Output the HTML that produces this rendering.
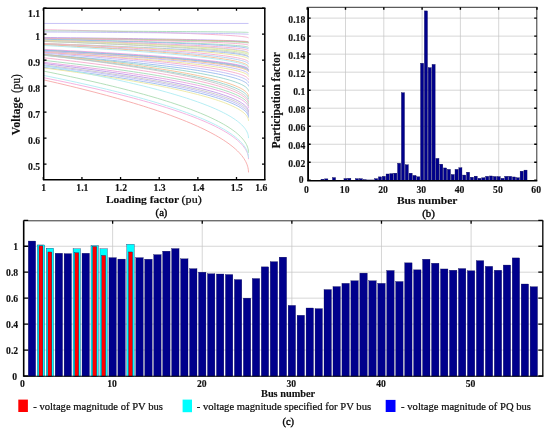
<!DOCTYPE html>
<html><head><meta charset="utf-8"><title>Figure</title>
<style>html,body{margin:0;padding:0;background:#fff;width:550px;height:431px;overflow:hidden}</style>
</head><body>
<svg width="550" height="431" viewBox="0 0 550 431" style="display:block;font-family:'Liberation Serif', 'DejaVu Serif', serif">
<style>.rg{stroke:#000;stroke-width:0.22px;fill:#111} text[font-weight=bold]{stroke:#000;stroke-width:0.12px} .pl{stroke-width:0.4px}</style>
<rect width="550" height="431" fill="#fff"/>
<g fill="none" stroke-width="0.85" stroke-linejoin="round">
<path d="M44.10,23.44 L248.50,23.44" stroke="#bdb8f5"/>
<path d="M44.10,29.70 L50.86,29.84 L57.50,29.98 L64.03,30.11 L70.44,30.25 L76.75,30.39 L82.94,30.53 L89.01,30.67 L94.97,30.81 L100.82,30.95 L106.56,31.08 L112.18,31.22 L117.68,31.36 L123.08,31.50 L128.36,31.64 L133.52,31.77 L138.58,31.91 L143.52,32.05 L148.34,32.19 L153.06,32.33 L157.66,32.47 L162.14,32.60 L166.51,32.74 L170.77,32.88 L174.92,33.02 L178.95,33.16 L182.86,33.30 L186.67,33.44 L190.36,33.57 L193.94,33.71 L197.40,33.85 L200.75,33.99 L203.99,34.13 L207.11,34.27 L210.12,34.40 L213.01,34.54 L215.80,34.68 L218.46,34.82 L221.02,34.96 L223.46,35.09 L225.79,35.23 L228.00,35.37 L230.10,35.51 L232.09,35.65 L233.96,35.79 L235.72,35.92 L237.37,36.06 L238.90,36.20 L240.32,36.34 L241.63,36.48 L242.82,36.62 L243.90,36.76 L244.87,36.89 L245.72,37.03 L246.46,37.17 L247.08,37.31 L247.59,37.45 L247.99,37.58 L248.27,37.72 L248.44,37.86 L248.50,38.00" stroke="#f4a6c9"/>
<path d="M44.10,30.90 L50.86,30.93 L57.50,30.95 L64.03,30.98 L70.44,31.01 L76.75,31.03 L82.94,31.06 L89.01,31.09 L94.97,31.11 L100.82,31.14 L106.56,31.17 L112.18,31.19 L117.68,31.22 L123.08,31.25 L128.36,31.27 L133.52,31.30 L138.58,31.33 L143.52,31.35 L148.34,31.38 L153.06,31.41 L157.66,31.43 L162.14,31.46 L166.51,31.49 L170.77,31.51 L174.92,31.54 L178.95,31.57 L182.86,31.59 L186.67,31.62 L190.36,31.65 L193.94,31.67 L197.40,31.70 L200.75,31.73 L203.99,31.75 L207.11,31.78 L210.12,31.81 L213.01,31.83 L215.80,31.86 L218.46,31.89 L221.02,31.91 L223.46,31.94 L225.79,31.97 L228.00,31.99 L230.10,32.02 L232.09,32.05 L233.96,32.07 L235.72,32.10 L237.37,32.13 L238.90,32.15 L240.32,32.18 L241.63,32.21 L242.82,32.23 L243.90,32.26 L244.87,32.29 L245.72,32.31 L246.46,32.34 L247.08,32.37 L247.59,32.39 L247.99,32.42 L248.27,32.45 L248.44,32.47 L248.50,32.50" stroke="#9fd8b4"/>
<path d="M44.10,32.00 L50.86,32.04 L57.50,32.08 L64.03,32.12 L70.44,32.16 L76.75,32.20 L82.94,32.24 L89.01,32.28 L94.97,32.32 L100.82,32.36 L106.56,32.40 L112.18,32.44 L117.68,32.48 L123.08,32.52 L128.36,32.56 L133.52,32.60 L138.58,32.64 L143.52,32.68 L148.34,32.72 L153.06,32.76 L157.66,32.80 L162.14,32.84 L166.51,32.88 L170.77,32.92 L174.92,32.96 L178.95,33.00 L182.86,33.04 L186.67,33.08 L190.36,33.12 L193.94,33.16 L197.40,33.20 L200.75,33.24 L203.99,33.28 L207.11,33.32 L210.12,33.36 L213.01,33.40 L215.80,33.44 L218.46,33.48 L221.02,33.52 L223.46,33.56 L225.79,33.60 L228.00,33.64 L230.10,33.68 L232.09,33.72 L233.96,33.76 L235.72,33.80 L237.37,33.84 L238.90,33.88 L240.32,33.92 L241.63,33.96 L242.82,34.00 L243.90,34.04 L244.87,34.08 L245.72,34.12 L246.46,34.16 L247.08,34.20 L247.59,34.24 L247.99,34.28 L248.27,34.32 L248.44,34.36 L248.50,34.40" stroke="#bcb6f4"/>
<path d="M44.10,37.50 L50.86,37.57 L57.50,37.65 L64.03,37.72 L70.44,37.80 L76.75,37.87 L82.94,37.95 L89.01,38.02 L94.97,38.10 L100.82,38.17 L106.56,38.25 L112.18,38.32 L117.68,38.40 L123.08,38.47 L128.36,38.55 L133.52,38.62 L138.58,38.70 L143.52,38.77 L148.34,38.85 L153.06,38.92 L157.66,39.00 L162.14,39.07 L166.51,39.14 L170.77,39.22 L174.92,39.29 L178.95,39.37 L182.86,39.44 L186.67,39.52 L190.36,39.59 L193.94,39.67 L197.40,39.74 L200.75,39.82 L203.99,39.89 L207.11,39.97 L210.12,40.04 L213.01,40.12 L215.80,40.19 L218.46,40.27 L221.02,40.34 L223.46,40.42 L225.79,40.49 L228.00,40.56 L230.10,40.64 L232.09,40.71 L233.96,40.79 L235.72,40.86 L237.37,40.94 L238.90,41.01 L240.32,41.09 L241.63,41.16 L242.82,41.24 L243.90,41.31 L244.87,41.39 L245.72,41.46 L246.46,41.54 L247.08,41.61 L247.59,41.69 L247.99,41.76 L248.27,41.84 L248.44,41.91 L248.50,41.99" stroke="#b995e6"/>
<path d="M44.10,38.40 L50.86,38.46 L57.50,38.53 L64.03,38.59 L70.44,38.66 L76.75,38.72 L82.94,38.79 L89.01,38.85 L94.97,38.92 L100.82,38.98 L106.56,39.05 L112.18,39.11 L117.68,39.18 L123.08,39.24 L128.36,39.31 L133.52,39.37 L138.58,39.44 L143.52,39.50 L148.34,39.57 L153.06,39.63 L157.66,39.70 L162.14,39.76 L166.51,39.83 L170.77,39.89 L174.92,39.96 L178.95,40.02 L182.86,40.08 L186.67,40.15 L190.36,40.21 L193.94,40.28 L197.40,40.34 L200.75,40.41 L203.99,40.47 L207.11,40.54 L210.12,40.60 L213.01,40.67 L215.80,40.73 L218.46,40.80 L221.02,40.86 L223.46,40.93 L225.79,40.99 L228.00,41.06 L230.10,41.12 L232.09,41.19 L233.96,41.25 L235.72,41.32 L237.37,41.38 L238.90,41.45 L240.32,41.51 L241.63,41.58 L242.82,41.64 L243.90,41.71 L244.87,41.77 L245.72,41.83 L246.46,41.90 L247.08,41.96 L247.59,42.03 L247.99,42.09 L248.27,42.16 L248.44,42.22 L248.50,42.29" stroke="#f3b98c"/>
<path d="M44.10,38.40 L50.86,38.47 L57.50,38.54 L64.03,38.61 L70.44,38.68 L76.75,38.75 L82.94,38.82 L89.01,38.89 L94.97,38.96 L100.82,39.03 L106.56,39.10 L112.18,39.17 L117.68,39.24 L123.08,39.31 L128.36,39.38 L133.52,39.45 L138.58,39.52 L143.52,39.59 L148.34,39.66 L153.06,39.73 L157.66,39.80 L162.14,39.87 L166.51,39.94 L170.77,40.01 L174.92,40.08 L178.95,40.15 L182.86,40.22 L186.67,40.29 L190.36,40.36 L193.94,40.43 L197.40,40.50 L200.75,40.57 L203.99,40.64 L207.11,40.71 L210.12,40.78 L213.01,40.85 L215.80,40.92 L218.46,40.99 L221.02,41.06 L223.46,41.13 L225.79,41.20 L228.00,41.27 L230.10,41.34 L232.09,41.41 L233.96,41.48 L235.72,41.55 L237.37,41.62 L238.90,41.69 L240.32,41.76 L241.63,41.83 L242.82,41.90 L243.90,41.97 L244.87,42.04 L245.72,42.11 L246.46,42.18 L247.08,42.25 L247.59,42.32 L247.99,42.39 L248.27,42.46 L248.44,42.53 L248.50,42.60" stroke="#d9a88a"/>
<path d="M44.10,38.40 L50.86,38.48 L57.50,38.56 L64.03,38.64 L70.44,38.72 L76.75,38.80 L82.94,38.88 L89.01,38.96 L94.97,39.04 L100.82,39.12 L106.56,39.20 L112.18,39.28 L117.68,39.36 L123.08,39.44 L128.36,39.52 L133.52,39.60 L138.58,39.68 L143.52,39.76 L148.34,39.84 L153.06,39.92 L157.66,40.00 L162.14,40.08 L166.51,40.16 L170.77,40.24 L174.92,40.32 L178.95,40.40 L182.86,40.48 L186.67,40.56 L190.36,40.64 L193.94,40.72 L197.40,40.80 L200.75,40.88 L203.99,40.96 L207.11,41.04 L210.12,41.12 L213.01,41.20 L215.80,41.28 L218.46,41.36 L221.02,41.44 L223.46,41.52 L225.79,41.60 L228.00,41.68 L230.10,41.76 L232.09,41.85 L233.96,41.93 L235.72,42.01 L237.37,42.09 L238.90,42.17 L240.32,42.25 L241.63,42.33 L242.82,42.41 L243.90,42.49 L244.87,42.57 L245.72,42.65 L246.46,42.73 L247.08,42.81 L247.59,42.89 L247.99,42.97 L248.27,43.05 L248.44,43.13 L248.50,43.21" stroke="#9fd8b4"/>
<path d="M44.10,38.40 L50.86,38.51 L57.50,38.63 L64.03,38.74 L70.44,38.86 L76.75,38.97 L82.94,39.08 L89.01,39.20 L94.97,39.31 L100.82,39.42 L106.56,39.54 L112.18,39.65 L117.68,39.77 L123.08,39.88 L128.36,39.99 L133.52,40.11 L138.58,40.22 L143.52,40.33 L148.34,40.45 L153.06,40.56 L157.66,40.68 L162.14,40.79 L166.51,40.90 L170.77,41.02 L174.92,41.13 L178.95,41.24 L182.86,41.36 L186.67,41.47 L190.36,41.59 L193.94,41.70 L197.40,41.81 L200.75,41.93 L203.99,42.04 L207.11,42.15 L210.12,42.27 L213.01,42.38 L215.80,42.50 L218.46,42.61 L221.02,42.72 L223.46,42.84 L225.79,42.95 L228.00,43.06 L230.10,43.18 L232.09,43.29 L233.96,43.41 L235.72,43.52 L237.37,43.63 L238.90,43.75 L240.32,43.86 L241.63,43.97 L242.82,44.09 L243.90,44.20 L244.87,44.32 L245.72,44.43 L246.46,44.54 L247.08,44.66 L247.59,44.77 L247.99,44.88 L248.27,45.00 L248.44,45.11 L248.50,45.23" stroke="#f4a6c9"/>
<path d="M44.10,39.30 L50.86,39.44 L57.50,39.57 L64.03,39.71 L70.44,39.84 L76.75,39.98 L82.94,40.12 L89.01,40.25 L94.97,40.39 L100.82,40.53 L106.56,40.66 L112.18,40.80 L117.68,40.93 L123.08,41.07 L128.36,41.21 L133.52,41.34 L138.58,41.48 L143.52,41.62 L148.34,41.75 L153.06,41.89 L157.66,42.02 L162.14,42.16 L166.51,42.30 L170.77,42.43 L174.92,42.57 L178.95,42.71 L182.86,42.84 L186.67,42.98 L190.36,43.11 L193.94,43.25 L197.40,43.39 L200.75,43.52 L203.99,43.66 L207.11,43.80 L210.12,43.93 L213.01,44.07 L215.80,44.20 L218.46,44.34 L221.02,44.48 L223.46,44.61 L225.79,44.75 L228.00,44.89 L230.10,45.02 L232.09,45.16 L233.96,45.29 L235.72,45.43 L237.37,45.57 L238.90,45.70 L240.32,45.84 L241.63,45.98 L242.82,46.11 L243.90,46.25 L244.87,46.38 L245.72,46.52 L246.46,46.66 L247.08,46.79 L247.59,46.93 L247.99,47.07 L248.27,47.20 L248.44,47.34 L248.50,47.47" stroke="#9fd8b4"/>
<path d="M44.10,39.30 L50.86,39.46 L57.50,39.62 L64.03,39.78 L70.44,39.95 L76.75,40.11 L82.94,40.27 L89.01,40.43 L94.97,40.59 L100.82,40.75 L106.56,40.91 L112.18,41.07 L117.68,41.24 L123.08,41.40 L128.36,41.56 L133.52,41.72 L138.58,41.88 L143.52,42.04 L148.34,42.20 L153.06,42.36 L157.66,42.53 L162.14,42.69 L166.51,42.85 L170.77,43.01 L174.92,43.17 L178.95,43.33 L182.86,43.49 L186.67,43.65 L190.36,43.82 L193.94,43.98 L197.40,44.14 L200.75,44.30 L203.99,44.46 L207.11,44.62 L210.12,44.78 L213.01,44.94 L215.80,45.11 L218.46,45.27 L221.02,45.43 L223.46,45.59 L225.79,45.75 L228.00,45.91 L230.10,46.07 L232.09,46.23 L233.96,46.40 L235.72,46.56 L237.37,46.72 L238.90,46.88 L240.32,47.04 L241.63,47.20 L242.82,47.36 L243.90,47.52 L244.87,47.69 L245.72,47.85 L246.46,48.01 L247.08,48.17 L247.59,48.33 L247.99,48.49 L248.27,48.65 L248.44,48.81 L248.50,48.98" stroke="#95b7ec"/>
<path d="M44.10,40.20 L50.86,40.38 L57.50,40.55 L64.03,40.73 L70.44,40.91 L76.75,41.08 L82.94,41.26 L89.01,41.44 L94.97,41.61 L100.82,41.79 L106.56,41.97 L112.18,42.14 L117.68,42.32 L123.08,42.50 L128.36,42.67 L133.52,42.85 L138.58,43.03 L143.52,43.20 L148.34,43.38 L153.06,43.55 L157.66,43.73 L162.14,43.91 L166.51,44.08 L170.77,44.26 L174.92,44.44 L178.95,44.61 L182.86,44.79 L186.67,44.97 L190.36,45.14 L193.94,45.32 L197.40,45.50 L200.75,45.67 L203.99,45.85 L207.11,46.03 L210.12,46.20 L213.01,46.38 L215.80,46.56 L218.46,46.73 L221.02,46.91 L223.46,47.09 L225.79,47.26 L228.00,47.44 L230.10,47.62 L232.09,47.79 L233.96,47.97 L235.72,48.15 L237.37,48.32 L238.90,48.50 L240.32,48.68 L241.63,48.85 L242.82,49.03 L243.90,49.21 L244.87,49.38 L245.72,49.56 L246.46,49.74 L247.08,49.91 L247.59,50.09 L247.99,50.26 L248.27,50.44 L248.44,50.62 L248.50,50.79" stroke="#f4a6c9"/>
<path d="M44.10,40.20 L50.86,40.41 L57.50,40.62 L64.03,40.83 L70.44,41.05 L76.75,41.26 L82.94,41.47 L89.01,41.68 L94.97,41.89 L100.82,42.10 L106.56,42.31 L112.18,42.53 L117.68,42.74 L123.08,42.95 L128.36,43.16 L133.52,43.37 L138.58,43.58 L143.52,43.79 L148.34,44.01 L153.06,44.22 L157.66,44.43 L162.14,44.64 L166.51,44.85 L170.77,45.06 L174.92,45.28 L178.95,45.49 L182.86,45.70 L186.67,45.91 L190.36,46.12 L193.94,46.33 L197.40,46.54 L200.75,46.76 L203.99,46.97 L207.11,47.18 L210.12,47.39 L213.01,47.60 L215.80,47.81 L218.46,48.02 L221.02,48.24 L223.46,48.45 L225.79,48.66 L228.00,48.87 L230.10,49.08 L232.09,49.29 L233.96,49.50 L235.72,49.72 L237.37,49.93 L238.90,50.14 L240.32,50.35 L241.63,50.56 L242.82,50.77 L243.90,50.98 L244.87,51.20 L245.72,51.41 L246.46,51.62 L247.08,51.83 L247.59,52.04 L247.99,52.25 L248.27,52.46 L248.44,52.68 L248.50,52.89" stroke="#bcb6f4"/>
<path d="M44.10,40.20 L50.86,40.43 L57.50,40.65 L64.03,40.88 L70.44,41.10 L76.75,41.33 L82.94,41.55 L89.01,41.78 L94.97,42.00 L100.82,42.23 L106.56,42.45 L112.18,42.68 L117.68,42.91 L123.08,43.13 L128.36,43.36 L133.52,43.58 L138.58,43.81 L143.52,44.03 L148.34,44.26 L153.06,44.48 L157.66,44.71 L162.14,44.93 L166.51,45.16 L170.77,45.38 L174.92,45.61 L178.95,45.84 L182.86,46.06 L186.67,46.29 L190.36,46.51 L193.94,46.74 L197.40,46.96 L200.75,47.19 L203.99,47.41 L207.11,47.64 L210.12,47.86 L213.01,48.09 L215.80,48.32 L218.46,48.54 L221.02,48.77 L223.46,48.99 L225.79,49.22 L228.00,49.44 L230.10,49.67 L232.09,49.89 L233.96,50.12 L235.72,50.34 L237.37,50.57 L238.90,50.80 L240.32,51.02 L241.63,51.25 L242.82,51.47 L243.90,51.70 L244.87,51.92 L245.72,52.15 L246.46,52.37 L247.08,52.60 L247.59,52.82 L247.99,53.05 L248.27,53.27 L248.44,53.50 L248.50,53.73" stroke="#e8e292"/>
<path d="M44.10,41.40 L50.86,41.63 L57.50,41.85 L64.03,42.08 L70.44,42.31 L76.75,42.53 L82.94,42.76 L89.01,42.98 L94.97,43.21 L100.82,43.44 L106.56,43.66 L112.18,43.89 L117.68,44.12 L123.08,44.34 L128.36,44.57 L133.52,44.80 L138.58,45.02 L143.52,45.25 L148.34,45.47 L153.06,45.70 L157.66,45.93 L162.14,46.15 L166.51,46.38 L170.77,46.61 L174.92,46.83 L178.95,47.06 L182.86,47.29 L186.67,47.51 L190.36,47.74 L193.94,47.97 L197.40,48.19 L200.75,48.42 L203.99,48.64 L207.11,48.87 L210.12,49.10 L213.01,49.32 L215.80,49.55 L218.46,49.78 L221.02,50.00 L223.46,50.23 L225.79,50.46 L228.00,50.68 L230.10,50.91 L232.09,51.13 L233.96,51.36 L235.72,51.59 L237.37,51.81 L238.90,52.04 L240.32,52.27 L241.63,52.49 L242.82,52.72 L243.90,52.95 L244.87,53.17 L245.72,53.40 L246.46,53.62 L247.08,53.85 L247.59,54.08 L247.99,54.30 L248.27,54.53 L248.44,54.76 L248.50,54.98" stroke="#c3e39e"/>
<path d="M44.10,41.40 L50.86,41.65 L57.50,41.91 L64.03,42.16 L70.44,42.42 L76.75,42.67 L82.94,42.92 L89.01,43.18 L94.97,43.43 L100.82,43.68 L106.56,43.94 L112.18,44.19 L117.68,44.45 L123.08,44.70 L128.36,44.95 L133.52,45.21 L138.58,45.46 L143.52,45.72 L148.34,45.97 L153.06,46.22 L157.66,46.48 L162.14,46.73 L166.51,46.99 L170.77,47.24 L174.92,47.49 L178.95,47.75 L182.86,48.00 L186.67,48.25 L190.36,48.51 L193.94,48.76 L197.40,49.02 L200.75,49.27 L203.99,49.52 L207.11,49.78 L210.12,50.03 L213.01,50.29 L215.80,50.54 L218.46,50.79 L221.02,51.05 L223.46,51.30 L225.79,51.55 L228.00,51.81 L230.10,52.06 L232.09,52.32 L233.96,52.57 L235.72,52.82 L237.37,53.08 L238.90,53.33 L240.32,53.59 L241.63,53.84 L242.82,54.09 L243.90,54.35 L244.87,54.60 L245.72,54.86 L246.46,55.11 L247.08,55.36 L247.59,55.62 L247.99,55.87 L248.27,56.12 L248.44,56.38 L248.50,56.63" stroke="#c4c4c4"/>
<path d="M44.10,43.60 L50.86,43.83 L57.50,44.05 L64.03,44.28 L70.44,44.51 L76.75,44.74 L82.94,44.96 L89.01,45.19 L94.97,45.42 L100.82,45.65 L106.56,45.87 L112.18,46.10 L117.68,46.33 L123.08,46.56 L128.36,46.78 L133.52,47.01 L138.58,47.24 L143.52,47.46 L148.34,47.69 L153.06,47.92 L157.66,48.15 L162.14,48.37 L166.51,48.60 L170.77,48.83 L174.92,49.06 L178.95,49.28 L182.86,49.51 L186.67,49.74 L190.36,49.96 L193.94,50.19 L197.40,50.42 L200.75,50.65 L203.99,50.87 L207.11,51.10 L210.12,51.33 L213.01,51.56 L215.80,51.78 L218.46,52.01 L221.02,52.24 L223.46,52.47 L225.79,52.69 L228.00,52.92 L230.10,53.15 L232.09,53.37 L233.96,53.60 L235.72,53.83 L237.37,54.06 L238.90,54.28 L240.32,54.51 L241.63,54.74 L242.82,54.97 L243.90,55.19 L244.87,55.42 L245.72,55.65 L246.46,55.88 L247.08,56.10 L247.59,56.33 L247.99,56.56 L248.27,56.78 L248.44,57.01 L248.50,57.24" stroke="#95b7ec"/>
<path d="M44.10,43.60 L50.86,43.86 L57.50,44.12 L64.03,44.38 L70.44,44.64 L76.75,44.90 L82.94,45.16 L89.01,45.42 L94.97,45.68 L100.82,45.94 L106.56,46.20 L112.18,46.46 L117.68,46.71 L123.08,46.97 L128.36,47.23 L133.52,47.49 L138.58,47.75 L143.52,48.01 L148.34,48.27 L153.06,48.53 L157.66,48.79 L162.14,49.05 L166.51,49.31 L170.77,49.57 L174.92,49.83 L178.95,50.09 L182.86,50.35 L186.67,50.61 L190.36,50.87 L193.94,51.13 L197.40,51.39 L200.75,51.65 L203.99,51.91 L207.11,52.17 L210.12,52.42 L213.01,52.68 L215.80,52.94 L218.46,53.20 L221.02,53.46 L223.46,53.72 L225.79,53.98 L228.00,54.24 L230.10,54.50 L232.09,54.76 L233.96,55.02 L235.72,55.28 L237.37,55.54 L238.90,55.80 L240.32,56.06 L241.63,56.32 L242.82,56.58 L243.90,56.84 L244.87,57.10 L245.72,57.36 L246.46,57.62 L247.08,57.88 L247.59,58.14 L247.99,58.39 L248.27,58.65 L248.44,58.91 L248.50,59.17" stroke="#e8e292"/>
<path d="M44.10,43.60 L50.86,43.91 L57.50,44.22 L64.03,44.53 L70.44,44.84 L76.75,45.15 L82.94,45.46 L89.01,45.77 L94.97,46.08 L100.82,46.39 L106.56,46.70 L112.18,47.01 L117.68,47.32 L123.08,47.62 L128.36,47.93 L133.52,48.24 L138.58,48.55 L143.52,48.86 L148.34,49.17 L153.06,49.48 L157.66,49.79 L162.14,50.10 L166.51,50.41 L170.77,50.72 L174.92,51.03 L178.95,51.34 L182.86,51.65 L186.67,51.96 L190.36,52.27 L193.94,52.58 L197.40,52.89 L200.75,53.20 L203.99,53.51 L207.11,53.82 L210.12,54.13 L213.01,54.44 L215.80,54.75 L218.46,55.06 L221.02,55.37 L223.46,55.67 L225.79,55.98 L228.00,56.29 L230.10,56.60 L232.09,56.91 L233.96,57.22 L235.72,57.53 L237.37,57.84 L238.90,58.15 L240.32,58.46 L241.63,58.77 L242.82,59.08 L243.90,59.39 L244.87,59.70 L245.72,60.01 L246.46,60.32 L247.08,60.63 L247.59,60.94 L247.99,61.25 L248.27,61.56 L248.44,61.87 L248.50,62.18" stroke="#f4a6c9"/>
<path d="M44.10,44.50 L50.86,44.83 L57.50,45.16 L64.03,45.48 L70.44,45.81 L76.75,46.14 L82.94,46.47 L89.01,46.79 L94.97,47.12 L100.82,47.45 L106.56,47.78 L112.18,48.10 L117.68,48.43 L123.08,48.76 L128.36,49.09 L133.52,49.42 L138.58,49.74 L143.52,50.07 L148.34,50.40 L153.06,50.73 L157.66,51.05 L162.14,51.38 L166.51,51.71 L170.77,52.04 L174.92,52.36 L178.95,52.69 L182.86,53.02 L186.67,53.35 L190.36,53.68 L193.94,54.00 L197.40,54.33 L200.75,54.66 L203.99,54.99 L207.11,55.31 L210.12,55.64 L213.01,55.97 L215.80,56.30 L218.46,56.63 L221.02,56.95 L223.46,57.28 L225.79,57.61 L228.00,57.94 L230.10,58.26 L232.09,58.59 L233.96,58.92 L235.72,59.25 L237.37,59.57 L238.90,59.90 L240.32,60.23 L241.63,60.56 L242.82,60.89 L243.90,61.21 L244.87,61.54 L245.72,61.87 L246.46,62.20 L247.08,62.52 L247.59,62.85 L247.99,63.18 L248.27,63.51 L248.44,63.83 L248.50,64.16" stroke="#aac8f0"/>
<path d="M44.10,44.50 L50.86,44.87 L57.50,45.24 L64.03,45.61 L70.44,45.98 L76.75,46.35 L82.94,46.72 L89.01,47.09 L94.97,47.46 L100.82,47.83 L106.56,48.20 L112.18,48.57 L117.68,48.94 L123.08,49.31 L128.36,49.68 L133.52,50.05 L138.58,50.42 L143.52,50.79 L148.34,51.16 L153.06,51.53 L157.66,51.90 L162.14,52.27 L166.51,52.64 L170.77,53.01 L174.92,53.38 L178.95,53.75 L182.86,54.12 L186.67,54.49 L190.36,54.86 L193.94,55.23 L197.40,55.60 L200.75,55.97 L203.99,56.34 L207.11,56.71 L210.12,57.08 L213.01,57.45 L215.80,57.82 L218.46,58.19 L221.02,58.56 L223.46,58.93 L225.79,59.30 L228.00,59.67 L230.10,60.04 L232.09,60.41 L233.96,60.78 L235.72,61.15 L237.37,61.52 L238.90,61.89 L240.32,62.26 L241.63,62.63 L242.82,63.00 L243.90,63.37 L244.87,63.74 L245.72,64.11 L246.46,64.48 L247.08,64.85 L247.59,65.22 L247.99,65.59 L248.27,65.96 L248.44,66.33 L248.50,66.70" stroke="#f3b98c"/>
<path d="M44.10,45.50 L50.86,45.87 L57.50,46.25 L64.03,46.62 L70.44,47.00 L76.75,47.37 L82.94,47.75 L89.01,48.12 L94.97,48.50 L100.82,48.87 L106.56,49.25 L112.18,49.62 L117.68,49.99 L123.08,50.37 L128.36,50.74 L133.52,51.12 L138.58,51.49 L143.52,51.87 L148.34,52.24 L153.06,52.62 L157.66,52.99 L162.14,53.37 L166.51,53.74 L170.77,54.11 L174.92,54.49 L178.95,54.86 L182.86,55.24 L186.67,55.61 L190.36,55.99 L193.94,56.36 L197.40,56.74 L200.75,57.11 L203.99,57.49 L207.11,57.86 L210.12,58.23 L213.01,58.61 L215.80,58.98 L218.46,59.36 L221.02,59.73 L223.46,60.11 L225.79,60.48 L228.00,60.86 L230.10,61.23 L232.09,61.61 L233.96,61.98 L235.72,62.35 L237.37,62.73 L238.90,63.10 L240.32,63.48 L241.63,63.85 L242.82,64.23 L243.90,64.60 L244.87,64.98 L245.72,65.35 L246.46,65.73 L247.08,66.10 L247.59,66.48 L247.99,66.85 L248.27,67.22 L248.44,67.60 L248.50,67.97" stroke="#a9e8ef"/>
<path d="M44.10,49.40 L50.86,49.73 L57.50,50.07 L64.03,50.40 L70.44,50.74 L76.75,51.07 L82.94,51.40 L89.01,51.74 L94.97,52.07 L100.82,52.41 L106.56,52.74 L112.18,53.07 L117.68,53.41 L123.08,53.74 L128.36,54.08 L133.52,54.41 L138.58,54.74 L143.52,55.08 L148.34,55.41 L153.06,55.75 L157.66,56.08 L162.14,56.41 L166.51,56.75 L170.77,57.08 L174.92,57.42 L178.95,57.75 L182.86,58.08 L186.67,58.42 L190.36,58.75 L193.94,59.09 L197.40,59.42 L200.75,59.75 L203.99,60.09 L207.11,60.42 L210.12,60.76 L213.01,61.09 L215.80,61.42 L218.46,61.76 L221.02,62.09 L223.46,62.43 L225.79,62.76 L228.00,63.10 L230.10,63.43 L232.09,63.76 L233.96,64.10 L235.72,64.43 L237.37,64.77 L238.90,65.10 L240.32,65.43 L241.63,65.77 L242.82,66.10 L243.90,66.44 L244.87,66.77 L245.72,67.10 L246.46,67.44 L247.08,67.77 L247.59,68.11 L247.99,68.44 L248.27,68.77 L248.44,69.11 L248.50,69.44" stroke="#e69ede"/>
<path d="M44.10,50.30 L50.86,50.63 L57.50,50.95 L64.03,51.28 L70.44,51.61 L76.75,51.93 L82.94,52.26 L89.01,52.59 L94.97,52.91 L100.82,53.24 L106.56,53.57 L112.18,53.89 L117.68,54.22 L123.08,54.55 L128.36,54.87 L133.52,55.20 L138.58,55.53 L143.52,55.85 L148.34,56.18 L153.06,56.51 L157.66,56.83 L162.14,57.16 L166.51,57.49 L170.77,57.81 L174.92,58.14 L178.95,58.47 L182.86,58.79 L186.67,59.12 L190.36,59.45 L193.94,59.77 L197.40,60.10 L200.75,60.43 L203.99,60.75 L207.11,61.08 L210.12,61.40 L213.01,61.73 L215.80,62.06 L218.46,62.38 L221.02,62.71 L223.46,63.04 L225.79,63.36 L228.00,63.69 L230.10,64.02 L232.09,64.34 L233.96,64.67 L235.72,65.00 L237.37,65.32 L238.90,65.65 L240.32,65.98 L241.63,66.30 L242.82,66.63 L243.90,66.96 L244.87,67.28 L245.72,67.61 L246.46,67.94 L247.08,68.26 L247.59,68.59 L247.99,68.92 L248.27,69.24 L248.44,69.57 L248.50,69.90" stroke="#b995e6"/>
<path d="M44.10,50.30 L50.86,50.64 L57.50,50.98 L64.03,51.32 L70.44,51.66 L76.75,52.00 L82.94,52.34 L89.01,52.68 L94.97,53.02 L100.82,53.36 L106.56,53.70 L112.18,54.04 L117.68,54.38 L123.08,54.72 L128.36,55.06 L133.52,55.41 L138.58,55.75 L143.52,56.09 L148.34,56.43 L153.06,56.77 L157.66,57.11 L162.14,57.45 L166.51,57.79 L170.77,58.13 L174.92,58.47 L178.95,58.81 L182.86,59.15 L186.67,59.49 L190.36,59.83 L193.94,60.17 L197.40,60.51 L200.75,60.85 L203.99,61.19 L207.11,61.53 L210.12,61.87 L213.01,62.21 L215.80,62.55 L218.46,62.89 L221.02,63.23 L223.46,63.57 L225.79,63.91 L228.00,64.25 L230.10,64.59 L232.09,64.93 L233.96,65.27 L235.72,65.62 L237.37,65.96 L238.90,66.30 L240.32,66.64 L241.63,66.98 L242.82,67.32 L243.90,67.66 L244.87,68.00 L245.72,68.34 L246.46,68.68 L247.08,69.02 L247.59,69.36 L247.99,69.70 L248.27,70.04 L248.44,70.38 L248.50,70.72" stroke="#9fd8b4"/>
<path d="M44.10,50.30 L50.86,50.65 L57.50,51.00 L64.03,51.34 L70.44,51.69 L76.75,52.04 L82.94,52.39 L89.01,52.74 L94.97,53.08 L100.82,53.43 L106.56,53.78 L112.18,54.13 L117.68,54.48 L123.08,54.82 L128.36,55.17 L133.52,55.52 L138.58,55.87 L143.52,56.22 L148.34,56.56 L153.06,56.91 L157.66,57.26 L162.14,57.61 L166.51,57.96 L170.77,58.30 L174.92,58.65 L178.95,59.00 L182.86,59.35 L186.67,59.69 L190.36,60.04 L193.94,60.39 L197.40,60.74 L200.75,61.09 L203.99,61.43 L207.11,61.78 L210.12,62.13 L213.01,62.48 L215.80,62.83 L218.46,63.17 L221.02,63.52 L223.46,63.87 L225.79,64.22 L228.00,64.57 L230.10,64.91 L232.09,65.26 L233.96,65.61 L235.72,65.96 L237.37,66.31 L238.90,66.65 L240.32,67.00 L241.63,67.35 L242.82,67.70 L243.90,68.05 L244.87,68.39 L245.72,68.74 L246.46,69.09 L247.08,69.44 L247.59,69.79 L247.99,70.13 L248.27,70.48 L248.44,70.83 L248.50,71.18" stroke="#95b7ec"/>
<path d="M44.10,51.40 L50.86,51.74 L57.50,52.09 L64.03,52.43 L70.44,52.77 L76.75,53.12 L82.94,53.46 L89.01,53.80 L94.97,54.15 L100.82,54.49 L106.56,54.83 L112.18,55.18 L117.68,55.52 L123.08,55.86 L128.36,56.21 L133.52,56.55 L138.58,56.89 L143.52,57.24 L148.34,57.58 L153.06,57.92 L157.66,58.27 L162.14,58.61 L166.51,58.95 L170.77,59.30 L174.92,59.64 L178.95,59.98 L182.86,60.33 L186.67,60.67 L190.36,61.01 L193.94,61.36 L197.40,61.70 L200.75,62.04 L203.99,62.38 L207.11,62.73 L210.12,63.07 L213.01,63.41 L215.80,63.76 L218.46,64.10 L221.02,64.44 L223.46,64.79 L225.79,65.13 L228.00,65.47 L230.10,65.82 L232.09,66.16 L233.96,66.50 L235.72,66.85 L237.37,67.19 L238.90,67.53 L240.32,67.88 L241.63,68.22 L242.82,68.56 L243.90,68.91 L244.87,69.25 L245.72,69.59 L246.46,69.94 L247.08,70.28 L247.59,70.62 L247.99,70.97 L248.27,71.31 L248.44,71.65 L248.50,72.00" stroke="#f3b98c"/>
<path d="M44.10,51.40 L50.86,51.78 L57.50,52.17 L64.03,52.55 L70.44,52.94 L76.75,53.32 L82.94,53.70 L89.01,54.09 L94.97,54.47 L100.82,54.86 L106.56,55.24 L112.18,55.62 L117.68,56.01 L123.08,56.39 L128.36,56.77 L133.52,57.16 L138.58,57.54 L143.52,57.93 L148.34,58.31 L153.06,58.69 L157.66,59.08 L162.14,59.46 L166.51,59.85 L170.77,60.23 L174.92,60.61 L178.95,61.00 L182.86,61.38 L186.67,61.77 L190.36,62.15 L193.94,62.53 L197.40,62.92 L200.75,63.30 L203.99,63.68 L207.11,64.07 L210.12,64.45 L213.01,64.84 L215.80,65.22 L218.46,65.60 L221.02,65.99 L223.46,66.37 L225.79,66.76 L228.00,67.14 L230.10,67.52 L232.09,67.91 L233.96,68.29 L235.72,68.68 L237.37,69.06 L238.90,69.44 L240.32,69.83 L241.63,70.21 L242.82,70.60 L243.90,70.98 L244.87,71.36 L245.72,71.75 L246.46,72.13 L247.08,72.51 L247.59,72.90 L247.99,73.28 L248.27,73.67 L248.44,74.05 L248.50,74.43" stroke="#bcb6f4"/>
<path d="M44.10,52.30 L50.86,52.70 L57.50,53.11 L64.03,53.51 L70.44,53.92 L76.75,54.32 L82.94,54.73 L89.01,55.13 L94.97,55.54 L100.82,55.94 L106.56,56.35 L112.18,56.75 L117.68,57.16 L123.08,57.56 L128.36,57.97 L133.52,58.37 L138.58,58.78 L143.52,59.18 L148.34,59.59 L153.06,59.99 L157.66,60.40 L162.14,60.80 L166.51,61.20 L170.77,61.61 L174.92,62.01 L178.95,62.42 L182.86,62.82 L186.67,63.23 L190.36,63.63 L193.94,64.04 L197.40,64.44 L200.75,64.85 L203.99,65.25 L207.11,65.66 L210.12,66.06 L213.01,66.47 L215.80,66.87 L218.46,67.28 L221.02,67.68 L223.46,68.09 L225.79,68.49 L228.00,68.90 L230.10,69.30 L232.09,69.70 L233.96,70.11 L235.72,70.51 L237.37,70.92 L238.90,71.32 L240.32,71.73 L241.63,72.13 L242.82,72.54 L243.90,72.94 L244.87,73.35 L245.72,73.75 L246.46,74.16 L247.08,74.56 L247.59,74.97 L247.99,75.37 L248.27,75.78 L248.44,76.18 L248.50,76.59" stroke="#e8e292"/>
<path d="M44.10,52.30 L50.86,52.76 L57.50,53.22 L64.03,53.68 L70.44,54.14 L76.75,54.60 L82.94,55.05 L89.01,55.51 L94.97,55.97 L100.82,56.43 L106.56,56.89 L112.18,57.35 L117.68,57.81 L123.08,58.27 L128.36,58.73 L133.52,59.19 L138.58,59.64 L143.52,60.10 L148.34,60.56 L153.06,61.02 L157.66,61.48 L162.14,61.94 L166.51,62.40 L170.77,62.86 L174.92,63.32 L178.95,63.78 L182.86,64.23 L186.67,64.69 L190.36,65.15 L193.94,65.61 L197.40,66.07 L200.75,66.53 L203.99,66.99 L207.11,67.45 L210.12,67.91 L213.01,68.37 L215.80,68.82 L218.46,69.28 L221.02,69.74 L223.46,70.20 L225.79,70.66 L228.00,71.12 L230.10,71.58 L232.09,72.04 L233.96,72.50 L235.72,72.96 L237.37,73.42 L238.90,73.87 L240.32,74.33 L241.63,74.79 L242.82,75.25 L243.90,75.71 L244.87,76.17 L245.72,76.63 L246.46,77.09 L247.08,77.55 L247.59,78.01 L247.99,78.46 L248.27,78.92 L248.44,79.38 L248.50,79.84" stroke="#f4a6c9"/>
<path d="M44.10,53.20 L50.86,53.70 L57.50,54.19 L64.03,54.69 L70.44,55.19 L76.75,55.68 L82.94,56.18 L89.01,56.68 L94.97,57.17 L100.82,57.67 L106.56,58.17 L112.18,58.66 L117.68,59.16 L123.08,59.65 L128.36,60.15 L133.52,60.65 L138.58,61.14 L143.52,61.64 L148.34,62.14 L153.06,62.63 L157.66,63.13 L162.14,63.63 L166.51,64.12 L170.77,64.62 L174.92,65.12 L178.95,65.61 L182.86,66.11 L186.67,66.61 L190.36,67.10 L193.94,67.60 L197.40,68.10 L200.75,68.59 L203.99,69.09 L207.11,69.59 L210.12,70.08 L213.01,70.58 L215.80,71.08 L218.46,71.57 L221.02,72.07 L223.46,72.56 L225.79,73.06 L228.00,73.56 L230.10,74.05 L232.09,74.55 L233.96,75.05 L235.72,75.54 L237.37,76.04 L238.90,76.54 L240.32,77.03 L241.63,77.53 L242.82,78.03 L243.90,78.52 L244.87,79.02 L245.72,79.52 L246.46,80.01 L247.08,80.51 L247.59,81.01 L247.99,81.50 L248.27,82.00 L248.44,82.50 L248.50,82.99" stroke="#bcb6f4"/>
<path d="M44.10,54.50 L50.86,55.03 L57.50,55.56 L64.03,56.09 L70.44,56.62 L76.75,57.15 L82.94,57.68 L89.01,58.21 L94.97,58.74 L100.82,59.27 L106.56,59.80 L112.18,60.33 L117.68,60.86 L123.08,61.39 L128.36,61.92 L133.52,62.45 L138.58,62.98 L143.52,63.51 L148.34,64.04 L153.06,64.57 L157.66,65.10 L162.14,65.63 L166.51,66.16 L170.77,66.69 L174.92,67.22 L178.95,67.75 L182.86,68.28 L186.67,68.81 L190.36,69.34 L193.94,69.87 L197.40,70.40 L200.75,70.93 L203.99,71.46 L207.11,71.99 L210.12,72.52 L213.01,73.05 L215.80,73.58 L218.46,74.10 L221.02,74.63 L223.46,75.16 L225.79,75.69 L228.00,76.22 L230.10,76.75 L232.09,77.28 L233.96,77.81 L235.72,78.34 L237.37,78.87 L238.90,79.40 L240.32,79.93 L241.63,80.46 L242.82,80.99 L243.90,81.52 L244.87,82.05 L245.72,82.58 L246.46,83.11 L247.08,83.64 L247.59,84.17 L247.99,84.70 L248.27,85.23 L248.44,85.76 L248.50,86.29" stroke="#95b7ec"/>
<path d="M44.10,54.50 L50.86,55.11 L57.50,55.73 L64.03,56.34 L70.44,56.96 L76.75,57.57 L82.94,58.18 L89.01,58.80 L94.97,59.41 L100.82,60.02 L106.56,60.64 L112.18,61.25 L117.68,61.87 L123.08,62.48 L128.36,63.09 L133.52,63.71 L138.58,64.32 L143.52,64.93 L148.34,65.55 L153.06,66.16 L157.66,66.78 L162.14,67.39 L166.51,68.00 L170.77,68.62 L174.92,69.23 L178.95,69.85 L182.86,70.46 L186.67,71.07 L190.36,71.69 L193.94,72.30 L197.40,72.91 L200.75,73.53 L203.99,74.14 L207.11,74.76 L210.12,75.37 L213.01,75.98 L215.80,76.60 L218.46,77.21 L221.02,77.82 L223.46,78.44 L225.79,79.05 L228.00,79.67 L230.10,80.28 L232.09,80.89 L233.96,81.51 L235.72,82.12 L237.37,82.73 L238.90,83.35 L240.32,83.96 L241.63,84.58 L242.82,85.19 L243.90,85.80 L244.87,86.42 L245.72,87.03 L246.46,87.65 L247.08,88.26 L247.59,88.87 L247.99,89.49 L248.27,90.10 L248.44,90.71 L248.50,91.33" stroke="#8fd0c8"/>
<path d="M44.10,54.50 L50.86,55.20 L57.50,55.90 L64.03,56.60 L70.44,57.30 L76.75,58.00 L82.94,58.70 L89.01,59.40 L94.97,60.10 L100.82,60.80 L106.56,61.50 L112.18,62.20 L117.68,62.90 L123.08,63.60 L128.36,64.30 L133.52,65.00 L138.58,65.70 L143.52,66.40 L148.34,67.10 L153.06,67.80 L157.66,68.50 L162.14,69.20 L166.51,69.90 L170.77,70.59 L174.92,71.29 L178.95,71.99 L182.86,72.69 L186.67,73.39 L190.36,74.09 L193.94,74.79 L197.40,75.49 L200.75,76.19 L203.99,76.89 L207.11,77.59 L210.12,78.29 L213.01,78.99 L215.80,79.69 L218.46,80.39 L221.02,81.09 L223.46,81.79 L225.79,82.49 L228.00,83.19 L230.10,83.89 L232.09,84.59 L233.96,85.29 L235.72,85.99 L237.37,86.69 L238.90,87.39 L240.32,88.09 L241.63,88.79 L242.82,89.49 L243.90,90.19 L244.87,90.89 L245.72,91.59 L246.46,92.29 L247.08,92.99 L247.59,93.69 L247.99,94.39 L248.27,95.09 L248.44,95.79 L248.50,96.49" stroke="#f3b98c"/>
<path d="M44.10,55.20 L50.86,55.93 L57.50,56.66 L64.03,57.40 L70.44,58.13 L76.75,58.86 L82.94,59.59 L89.01,60.32 L94.97,61.06 L100.82,61.79 L106.56,62.52 L112.18,63.25 L117.68,63.98 L123.08,64.72 L128.36,65.45 L133.52,66.18 L138.58,66.91 L143.52,67.64 L148.34,68.38 L153.06,69.11 L157.66,69.84 L162.14,70.57 L166.51,71.31 L170.77,72.04 L174.92,72.77 L178.95,73.50 L182.86,74.23 L186.67,74.97 L190.36,75.70 L193.94,76.43 L197.40,77.16 L200.75,77.89 L203.99,78.63 L207.11,79.36 L210.12,80.09 L213.01,80.82 L215.80,81.55 L218.46,82.29 L221.02,83.02 L223.46,83.75 L225.79,84.48 L228.00,85.21 L230.10,85.95 L232.09,86.68 L233.96,87.41 L235.72,88.14 L237.37,88.87 L238.90,89.61 L240.32,90.34 L241.63,91.07 L242.82,91.80 L243.90,92.53 L244.87,93.27 L245.72,94.00 L246.46,94.73 L247.08,95.46 L247.59,96.19 L247.99,96.93 L248.27,97.66 L248.44,98.39 L248.50,99.12" stroke="#8fd0c8"/>
<path d="M44.10,55.20 L50.86,55.98 L57.50,56.76 L64.03,57.53 L70.44,58.31 L76.75,59.09 L82.94,59.87 L89.01,60.64 L94.97,61.42 L100.82,62.20 L106.56,62.98 L112.18,63.76 L117.68,64.53 L123.08,65.31 L128.36,66.09 L133.52,66.87 L138.58,67.64 L143.52,68.42 L148.34,69.20 L153.06,69.98 L157.66,70.76 L162.14,71.53 L166.51,72.31 L170.77,73.09 L174.92,73.87 L178.95,74.64 L182.86,75.42 L186.67,76.20 L190.36,76.98 L193.94,77.76 L197.40,78.53 L200.75,79.31 L203.99,80.09 L207.11,80.87 L210.12,81.64 L213.01,82.42 L215.80,83.20 L218.46,83.98 L221.02,84.75 L223.46,85.53 L225.79,86.31 L228.00,87.09 L230.10,87.87 L232.09,88.64 L233.96,89.42 L235.72,90.20 L237.37,90.98 L238.90,91.75 L240.32,92.53 L241.63,93.31 L242.82,94.09 L243.90,94.87 L244.87,95.64 L245.72,96.42 L246.46,97.20 L247.08,97.98 L247.59,98.75 L247.99,99.53 L248.27,100.31 L248.44,101.09 L248.50,101.87" stroke="#c4c4c4"/>
<path d="M44.10,57.80 L50.86,58.56 L57.50,59.33 L64.03,60.09 L70.44,60.86 L76.75,61.62 L82.94,62.39 L89.01,63.15 L94.97,63.92 L100.82,64.68 L106.56,65.44 L112.18,66.21 L117.68,66.97 L123.08,67.74 L128.36,68.50 L133.52,69.27 L138.58,70.03 L143.52,70.80 L148.34,71.56 L153.06,72.32 L157.66,73.09 L162.14,73.85 L166.51,74.62 L170.77,75.38 L174.92,76.15 L178.95,76.91 L182.86,77.68 L186.67,78.44 L190.36,79.20 L193.94,79.97 L197.40,80.73 L200.75,81.50 L203.99,82.26 L207.11,83.03 L210.12,83.79 L213.01,84.56 L215.80,85.32 L218.46,86.08 L221.02,86.85 L223.46,87.61 L225.79,88.38 L228.00,89.14 L230.10,89.91 L232.09,90.67 L233.96,91.43 L235.72,92.20 L237.37,92.96 L238.90,93.73 L240.32,94.49 L241.63,95.26 L242.82,96.02 L243.90,96.79 L244.87,97.55 L245.72,98.31 L246.46,99.08 L247.08,99.84 L247.59,100.61 L247.99,101.37 L248.27,102.14 L248.44,102.90 L248.50,103.67" stroke="#f4a6c9"/>
<path d="M44.10,60.40 L50.86,61.16 L57.50,61.92 L64.03,62.68 L70.44,63.43 L76.75,64.19 L82.94,64.95 L89.01,65.71 L94.97,66.47 L100.82,67.23 L106.56,67.99 L112.18,68.74 L117.68,69.50 L123.08,70.26 L128.36,71.02 L133.52,71.78 L138.58,72.54 L143.52,73.29 L148.34,74.05 L153.06,74.81 L157.66,75.57 L162.14,76.33 L166.51,77.09 L170.77,77.85 L174.92,78.60 L178.95,79.36 L182.86,80.12 L186.67,80.88 L190.36,81.64 L193.94,82.40 L197.40,83.16 L200.75,83.91 L203.99,84.67 L207.11,85.43 L210.12,86.19 L213.01,86.95 L215.80,87.71 L218.46,88.47 L221.02,89.22 L223.46,89.98 L225.79,90.74 L228.00,91.50 L230.10,92.26 L232.09,93.02 L233.96,93.78 L235.72,94.53 L237.37,95.29 L238.90,96.05 L240.32,96.81 L241.63,97.57 L242.82,98.33 L243.90,99.08 L244.87,99.84 L245.72,100.60 L246.46,101.36 L247.08,102.12 L247.59,102.88 L247.99,103.64 L248.27,104.39 L248.44,105.15 L248.50,105.91" stroke="#9fd8b4"/>
<path d="M44.10,62.40 L50.86,63.16 L57.50,63.93 L64.03,64.69 L70.44,65.45 L76.75,66.21 L82.94,66.98 L89.01,67.74 L94.97,68.50 L100.82,69.26 L106.56,70.03 L112.18,70.79 L117.68,71.55 L123.08,72.31 L128.36,73.08 L133.52,73.84 L138.58,74.60 L143.52,75.36 L148.34,76.13 L153.06,76.89 L157.66,77.65 L162.14,78.41 L166.51,79.18 L170.77,79.94 L174.92,80.70 L178.95,81.46 L182.86,82.23 L186.67,82.99 L190.36,83.75 L193.94,84.51 L197.40,85.28 L200.75,86.04 L203.99,86.80 L207.11,87.56 L210.12,88.33 L213.01,89.09 L215.80,89.85 L218.46,90.61 L221.02,91.38 L223.46,92.14 L225.79,92.90 L228.00,93.67 L230.10,94.43 L232.09,95.19 L233.96,95.95 L235.72,96.72 L237.37,97.48 L238.90,98.24 L240.32,99.00 L241.63,99.77 L242.82,100.53 L243.90,101.29 L244.87,102.05 L245.72,102.82 L246.46,103.58 L247.08,104.34 L247.59,105.10 L247.99,105.87 L248.27,106.63 L248.44,107.39 L248.50,108.15" stroke="#e69ede"/>
<path d="M44.10,63.60 L50.86,64.40 L57.50,65.21 L64.03,66.01 L70.44,66.81 L76.75,67.61 L82.94,68.42 L89.01,69.22 L94.97,70.02 L100.82,70.83 L106.56,71.63 L112.18,72.43 L117.68,73.23 L123.08,74.04 L128.36,74.84 L133.52,75.64 L138.58,76.44 L143.52,77.25 L148.34,78.05 L153.06,78.85 L157.66,79.66 L162.14,80.46 L166.51,81.26 L170.77,82.06 L174.92,82.87 L178.95,83.67 L182.86,84.47 L186.67,85.28 L190.36,86.08 L193.94,86.88 L197.40,87.68 L200.75,88.49 L203.99,89.29 L207.11,90.09 L210.12,90.90 L213.01,91.70 L215.80,92.50 L218.46,93.30 L221.02,94.11 L223.46,94.91 L225.79,95.71 L228.00,96.51 L230.10,97.32 L232.09,98.12 L233.96,98.92 L235.72,99.73 L237.37,100.53 L238.90,101.33 L240.32,102.13 L241.63,102.94 L242.82,103.74 L243.90,104.54 L244.87,105.35 L245.72,106.15 L246.46,106.95 L247.08,107.75 L247.59,108.56 L247.99,109.36 L248.27,110.16 L248.44,110.97 L248.50,111.77" stroke="#b995e6"/>
<path d="M44.10,65.00 L50.86,65.81 L57.50,66.62 L64.03,67.43 L70.44,68.25 L76.75,69.06 L82.94,69.87 L89.01,70.68 L94.97,71.49 L100.82,72.30 L106.56,73.12 L112.18,73.93 L117.68,74.74 L123.08,75.55 L128.36,76.36 L133.52,77.17 L138.58,77.98 L143.52,78.80 L148.34,79.61 L153.06,80.42 L157.66,81.23 L162.14,82.04 L166.51,82.85 L170.77,83.67 L174.92,84.48 L178.95,85.29 L182.86,86.10 L186.67,86.91 L190.36,87.72 L193.94,88.53 L197.40,89.35 L200.75,90.16 L203.99,90.97 L207.11,91.78 L210.12,92.59 L213.01,93.40 L215.80,94.22 L218.46,95.03 L221.02,95.84 L223.46,96.65 L225.79,97.46 L228.00,98.27 L230.10,99.08 L232.09,99.90 L233.96,100.71 L235.72,101.52 L237.37,102.33 L238.90,103.14 L240.32,103.95 L241.63,104.76 L242.82,105.58 L243.90,106.39 L244.87,107.20 L245.72,108.01 L246.46,108.82 L247.08,109.63 L247.59,110.45 L247.99,111.26 L248.27,112.07 L248.44,112.88 L248.50,113.69" stroke="#c4c4c4"/>
<path d="M44.10,65.90 L50.86,66.73 L57.50,67.56 L64.03,68.39 L70.44,69.21 L76.75,70.04 L82.94,70.87 L89.01,71.70 L94.97,72.53 L100.82,73.36 L106.56,74.19 L112.18,75.01 L117.68,75.84 L123.08,76.67 L128.36,77.50 L133.52,78.33 L138.58,79.16 L143.52,79.99 L148.34,80.81 L153.06,81.64 L157.66,82.47 L162.14,83.30 L166.51,84.13 L170.77,84.96 L174.92,85.79 L178.95,86.61 L182.86,87.44 L186.67,88.27 L190.36,89.10 L193.94,89.93 L197.40,90.76 L200.75,91.59 L203.99,92.41 L207.11,93.24 L210.12,94.07 L213.01,94.90 L215.80,95.73 L218.46,96.56 L221.02,97.39 L223.46,98.22 L225.79,99.04 L228.00,99.87 L230.10,100.70 L232.09,101.53 L233.96,102.36 L235.72,103.19 L237.37,104.02 L238.90,104.84 L240.32,105.67 L241.63,106.50 L242.82,107.33 L243.90,108.16 L244.87,108.99 L245.72,109.82 L246.46,110.64 L247.08,111.47 L247.59,112.30 L247.99,113.13 L248.27,113.96 L248.44,114.79 L248.50,115.62" stroke="#bcb6f4"/>
<path d="M44.10,67.40 L50.86,68.24 L57.50,69.07 L64.03,69.91 L70.44,70.74 L76.75,71.58 L82.94,72.41 L89.01,73.25 L94.97,74.09 L100.82,74.92 L106.56,75.76 L112.18,76.59 L117.68,77.43 L123.08,78.26 L128.36,79.10 L133.52,79.93 L138.58,80.77 L143.52,81.61 L148.34,82.44 L153.06,83.28 L157.66,84.11 L162.14,84.95 L166.51,85.78 L170.77,86.62 L174.92,87.46 L178.95,88.29 L182.86,89.13 L186.67,89.96 L190.36,90.80 L193.94,91.63 L197.40,92.47 L200.75,93.31 L203.99,94.14 L207.11,94.98 L210.12,95.81 L213.01,96.65 L215.80,97.48 L218.46,98.32 L221.02,99.15 L223.46,99.99 L225.79,100.83 L228.00,101.66 L230.10,102.50 L232.09,103.33 L233.96,104.17 L235.72,105.00 L237.37,105.84 L238.90,106.68 L240.32,107.51 L241.63,108.35 L242.82,109.18 L243.90,110.02 L244.87,110.85 L245.72,111.69 L246.46,112.53 L247.08,113.36 L247.59,114.20 L247.99,115.03 L248.27,115.87 L248.44,116.70 L248.50,117.54" stroke="#95b7ec"/>
<path d="M44.10,80.00 L50.86,81.54 L57.50,83.08 L64.03,84.62 L70.44,86.16 L76.75,87.70 L82.94,89.24 L89.01,90.78 L94.97,92.32 L100.82,93.86 L106.56,95.40 L112.18,96.94 L117.68,98.48 L123.08,100.02 L128.36,101.56 L133.52,103.10 L138.58,104.64 L143.52,106.18 L148.34,107.72 L153.06,109.26 L157.66,110.80 L162.14,112.34 L166.51,113.88 L170.77,115.42 L174.92,116.96 L178.95,118.50 L182.86,120.04 L186.67,121.58 L190.36,123.12 L193.94,124.66 L197.40,126.20 L200.75,127.74 L203.99,129.28 L207.11,130.82 L210.12,132.36 L213.01,133.90 L215.80,135.44 L218.46,136.98 L221.02,138.52 L223.46,140.06 L225.79,141.60 L228.00,143.14 L230.10,144.68 L232.09,146.22 L233.96,147.76 L235.72,149.30 L237.37,150.84 L238.90,152.38 L240.32,153.92 L241.63,155.46 L242.82,157.00 L243.90,158.54 L244.87,160.08 L245.72,161.62 L246.46,163.16 L247.08,164.70 L247.59,166.24 L247.99,167.78 L248.27,169.32 L248.44,170.86 L248.50,172.40" stroke="#f6a2a2"/>
<path d="M44.10,77.80 L50.86,79.16 L57.50,80.51 L64.03,81.87 L70.44,83.23 L76.75,84.58 L82.94,85.94 L89.01,87.30 L94.97,88.65 L100.82,90.01 L106.56,91.37 L112.18,92.72 L117.68,94.08 L123.08,95.44 L128.36,96.79 L133.52,98.15 L138.58,99.51 L143.52,100.86 L148.34,102.22 L153.06,103.58 L157.66,104.93 L162.14,106.29 L166.51,107.65 L170.77,109.00 L174.92,110.36 L178.95,111.72 L182.86,113.07 L186.67,114.43 L190.36,115.79 L193.94,117.14 L197.40,118.50 L200.75,119.86 L203.99,121.21 L207.11,122.57 L210.12,123.93 L213.01,125.28 L215.80,126.64 L218.46,128.00 L221.02,129.35 L223.46,130.71 L225.79,132.07 L228.00,133.42 L230.10,134.78 L232.09,136.14 L233.96,137.49 L235.72,138.85 L237.37,140.21 L238.90,141.56 L240.32,142.92 L241.63,144.28 L242.82,145.63 L243.90,146.99 L244.87,148.35 L245.72,149.70 L246.46,151.06 L247.08,152.42 L247.59,153.77 L247.99,155.13 L248.27,156.49 L248.44,157.84 L248.50,159.20" stroke="#f2a6dc"/>
<path d="M44.10,75.50 L50.86,76.87 L57.50,78.25 L64.03,79.62 L70.44,80.99 L76.75,82.37 L82.94,83.74 L89.01,85.11 L94.97,86.49 L100.82,87.86 L106.56,89.23 L112.18,90.61 L117.68,91.98 L123.08,93.35 L128.36,94.73 L133.52,96.10 L138.58,97.47 L143.52,98.85 L148.34,100.22 L153.06,101.59 L157.66,102.97 L162.14,104.34 L166.51,105.71 L170.77,107.09 L174.92,108.46 L178.95,109.83 L182.86,111.21 L186.67,112.58 L190.36,113.95 L193.94,115.33 L197.40,116.70 L200.75,118.07 L203.99,119.45 L207.11,120.82 L210.12,122.19 L213.01,123.57 L215.80,124.94 L218.46,126.31 L221.02,127.69 L223.46,129.06 L225.79,130.43 L228.00,131.81 L230.10,133.18 L232.09,134.55 L233.96,135.93 L235.72,137.30 L237.37,138.67 L238.90,140.05 L240.32,141.42 L241.63,142.79 L242.82,144.17 L243.90,145.54 L244.87,146.91 L245.72,148.29 L246.46,149.66 L247.08,151.03 L247.59,152.41 L247.99,153.78 L248.27,155.15 L248.44,156.53 L248.50,157.90" stroke="#a9ebf2"/>
<path d="M44.10,71.20 L50.86,72.56 L57.50,73.92 L64.03,75.28 L70.44,76.63 L76.75,77.99 L82.94,79.35 L89.01,80.71 L94.97,82.07 L100.82,83.42 L106.56,84.78 L112.18,86.14 L117.68,87.50 L123.08,88.86 L128.36,90.22 L133.52,91.58 L138.58,92.93 L143.52,94.29 L148.34,95.65 L153.06,97.01 L157.66,98.37 L162.14,99.72 L166.51,101.08 L170.77,102.44 L174.92,103.80 L178.95,105.16 L182.86,106.52 L186.67,107.88 L190.36,109.23 L193.94,110.59 L197.40,111.95 L200.75,113.31 L203.99,114.67 L207.11,116.03 L210.12,117.38 L213.01,118.74 L215.80,120.10 L218.46,121.46 L221.02,122.82 L223.46,124.18 L225.79,125.53 L228.00,126.89 L230.10,128.25 L232.09,129.61 L233.96,130.97 L235.72,132.32 L237.37,133.68 L238.90,135.04 L240.32,136.40 L241.63,137.76 L242.82,139.12 L243.90,140.47 L244.87,141.83 L245.72,143.19 L246.46,144.55 L247.08,145.91 L247.59,147.27 L247.99,148.62 L248.27,149.98 L248.44,151.34 L248.50,152.70" stroke="#a6d9ad"/>
<path d="M44.10,68.00 L50.86,68.88 L57.50,69.76 L64.03,70.64 L70.44,71.53 L76.75,72.41 L82.94,73.29 L89.01,74.17 L94.97,75.05 L100.82,75.94 L106.56,76.82 L112.18,77.70 L117.68,78.58 L123.08,79.46 L128.36,80.34 L133.52,81.22 L138.58,82.11 L143.52,82.99 L148.34,83.87 L153.06,84.75 L157.66,85.63 L162.14,86.52 L166.51,87.40 L170.77,88.28 L174.92,89.16 L178.95,90.04 L182.86,90.92 L186.67,91.81 L190.36,92.69 L193.94,93.57 L197.40,94.45 L200.75,95.33 L203.99,96.21 L207.11,97.09 L210.12,97.98 L213.01,98.86 L215.80,99.74 L218.46,100.62 L221.02,101.50 L223.46,102.39 L225.79,103.27 L228.00,104.15 L230.10,105.03 L232.09,105.91 L233.96,106.79 L235.72,107.68 L237.37,108.56 L238.90,109.44 L240.32,110.32 L241.63,111.20 L242.82,112.08 L243.90,112.97 L244.87,113.85 L245.72,114.73 L246.46,115.61 L247.08,116.49 L247.59,117.37 L247.99,118.25 L248.27,119.14 L248.44,120.02 L248.50,120.90" stroke="#ebe79c"/>
<path d="M44.10,65.50 L50.86,66.71 L57.50,67.92 L64.03,69.13 L70.44,70.34 L76.75,71.55 L82.94,72.76 L89.01,73.97 L94.97,75.18 L100.82,76.39 L106.56,77.60 L112.18,78.81 L117.68,80.02 L123.08,81.23 L128.36,82.44 L133.52,83.65 L138.58,84.86 L143.52,86.07 L148.34,87.28 L153.06,88.49 L157.66,89.70 L162.14,90.91 L166.51,92.12 L170.77,93.33 L174.92,94.54 L178.95,95.75 L182.86,96.96 L186.67,98.17 L190.36,99.38 L193.94,100.59 L197.40,101.80 L200.75,103.01 L203.99,104.22 L207.11,105.43 L210.12,106.64 L213.01,107.85 L215.80,109.06 L218.46,110.27 L221.02,111.48 L223.46,112.69 L225.79,113.90 L228.00,115.11 L230.10,116.32 L232.09,117.53 L233.96,118.74 L235.72,119.95 L237.37,121.16 L238.90,122.37 L240.32,123.58 L241.63,124.79 L242.82,126.00 L243.90,127.21 L244.87,128.42 L245.72,129.63 L246.46,130.84 L247.08,132.05 L247.59,133.26 L247.99,134.47 L248.27,135.68 L248.44,136.89 L248.50,138.10" stroke="#a9ebf2"/>
</g>
<g fill="none"><path d="M43.70,8.20V179.70" stroke="#000" stroke-width="1.5"/><path d="M42.95,179.70H265.55" stroke="#000" stroke-width="1.4"/><path d="M42.95,8.20H265.55" stroke="#000" stroke-width="1.4"/><path d="M264.80,8.20V179.70" stroke="#000" stroke-width="1.5"/></g>
<path d="M43.30,179.70v-2.6M43.30,8.20v2.6M81.94,179.70v-2.6M81.94,8.20v2.6M120.58,179.70v-2.6M120.58,8.20v2.6M159.22,179.70v-2.6M159.22,8.20v2.6M197.86,179.70v-2.6M197.86,8.20v2.6M236.50,179.70v-2.6M236.50,8.20v2.6M43.70,8.10h2.8M264.80,8.10h-2.8M43.70,34.10h2.8M264.80,34.10h-2.8M43.70,60.10h2.8M264.80,60.10h-2.8M43.70,86.10h2.8M264.80,86.10h-2.8M43.70,112.10h2.8M264.80,112.10h-2.8M43.70,138.10h2.8M264.80,138.10h-2.8M43.70,164.10h2.8M264.80,164.10h-2.8" stroke="#000" stroke-width="1.3" fill="none"/>
<g fill="#111">
<text x="43.70" y="190.90" font-size="9.7" font-weight="bold" text-anchor="middle">1</text>
<text x="82.34" y="190.90" font-size="9.7" font-weight="bold" text-anchor="middle">1.1</text>
<text x="120.98" y="190.90" font-size="9.7" font-weight="bold" text-anchor="middle">1.2</text>
<text x="159.62" y="190.90" font-size="9.7" font-weight="bold" text-anchor="middle">1.3</text>
<text x="198.26" y="190.90" font-size="9.7" font-weight="bold" text-anchor="middle">1.4</text>
<text x="236.90" y="190.90" font-size="9.7" font-weight="bold" text-anchor="middle">1.5</text>
<text x="261.30" y="190.90" font-size="9.7" font-weight="bold" text-anchor="middle">1.6</text>
<text x="40.20" y="16.60" font-size="9.7" font-weight="bold" text-anchor="end">1.1</text>
<text x="40.20" y="39.50" font-size="9.7" font-weight="bold" text-anchor="end">1</text>
<text x="40.20" y="65.50" font-size="9.7" font-weight="bold" text-anchor="end">0.9</text>
<text x="40.20" y="91.50" font-size="9.7" font-weight="bold" text-anchor="end">0.8</text>
<text x="40.20" y="117.50" font-size="9.7" font-weight="bold" text-anchor="end">0.7</text>
<text x="40.20" y="143.50" font-size="9.7" font-weight="bold" text-anchor="end">0.6</text>
<text x="40.20" y="169.50" font-size="9.7" font-weight="bold" text-anchor="end">0.5</text>
<text x="105.9" y="203" font-size="10.8" font-weight="bold" textLength="73.3" lengthAdjust="spacingAndGlyphs">Loading factor</text>
<text x="181.6" y="203" font-size="10.8" font-weight="normal" class="rg" textLength="20.1" lengthAdjust="spacingAndGlyphs">(pu)</text>
<text x="155.6" y="215.6" font-size="10.8" font-weight="normal" class="rg" textLength="11.8" lengthAdjust="spacingAndGlyphs" style="stroke-width:0.4px">(a)</text>
<g transform="translate(19.9,135.3) rotate(-90)"><text x="0" y="0" font-size="11.8" font-weight="bold" textLength="38.0" lengthAdjust="spacingAndGlyphs">Voltage</text><text x="42.4" y="0" font-size="11.8" font-weight="normal" class="rg" textLength="18.6" lengthAdjust="spacingAndGlyphs">(pu)</text></g>
</g>
<path d="M345.50,7.30V180.70M383.80,7.30V180.70M422.10,7.30V180.70M460.40,7.30V180.70M498.70,7.30V180.70M308.10,162.28H536.80M308.10,144.26H536.80M308.10,126.24H536.80M308.10,108.22H536.80M308.10,90.20H536.80M308.10,72.18H536.80M308.10,54.16H536.80M308.10,36.14H536.80M308.10,18.12H536.80" stroke="#c4c4c4" stroke-width="0.7" fill="none"/>
<g fill="#00008c" stroke="#000050" stroke-width="0.35">
<rect x="320.97" y="179.22" width="3.1" height="1.48"/>
<rect x="324.80" y="178.86" width="3.1" height="1.84"/>
<rect x="332.46" y="177.60" width="3.1" height="3.10"/>
<rect x="343.95" y="178.59" width="3.1" height="2.11"/>
<rect x="347.78" y="178.32" width="3.1" height="2.38"/>
<rect x="355.44" y="178.68" width="3.1" height="2.02"/>
<rect x="359.27" y="178.68" width="3.1" height="2.02"/>
<rect x="363.10" y="179.58" width="3.1" height="1.12"/>
<rect x="366.93" y="179.94" width="3.1" height="0.76"/>
<rect x="370.76" y="179.94" width="3.1" height="0.76"/>
<rect x="374.59" y="178.68" width="3.1" height="2.02"/>
<rect x="378.42" y="176.88" width="3.1" height="3.82"/>
<rect x="382.25" y="176.34" width="3.1" height="4.36"/>
<rect x="386.08" y="173.99" width="3.1" height="6.71"/>
<rect x="389.91" y="173.63" width="3.1" height="7.07"/>
<rect x="393.74" y="173.18" width="3.1" height="7.52"/>
<rect x="397.57" y="163.27" width="3.1" height="17.43"/>
<rect x="401.40" y="92.72" width="3.1" height="87.98"/>
<rect x="405.23" y="164.80" width="3.1" height="15.90"/>
<rect x="409.06" y="173.18" width="3.1" height="7.52"/>
<rect x="412.89" y="175.43" width="3.1" height="5.27"/>
<rect x="416.72" y="176.79" width="3.1" height="3.91"/>
<rect x="420.55" y="63.26" width="3.1" height="117.44"/>
<rect x="424.38" y="10.91" width="3.1" height="169.79"/>
<rect x="428.21" y="67.68" width="3.1" height="113.02"/>
<rect x="432.04" y="64.43" width="3.1" height="116.27"/>
<rect x="435.87" y="158.41" width="3.1" height="22.29"/>
<rect x="439.70" y="164.17" width="3.1" height="16.53"/>
<rect x="443.53" y="167.96" width="3.1" height="12.74"/>
<rect x="447.36" y="169.40" width="3.1" height="11.30"/>
<rect x="451.19" y="174.53" width="3.1" height="6.17"/>
<rect x="455.02" y="169.40" width="3.1" height="11.30"/>
<rect x="458.85" y="167.78" width="3.1" height="12.92"/>
<rect x="462.68" y="175.07" width="3.1" height="5.63"/>
<rect x="466.51" y="172.19" width="3.1" height="8.51"/>
<rect x="470.34" y="177.24" width="3.1" height="3.46"/>
<rect x="474.17" y="176.16" width="3.1" height="4.54"/>
<rect x="478.00" y="178.32" width="3.1" height="2.38"/>
<rect x="481.83" y="177.78" width="3.1" height="2.92"/>
<rect x="485.66" y="176.34" width="3.1" height="4.36"/>
<rect x="489.49" y="175.98" width="3.1" height="4.72"/>
<rect x="493.32" y="176.52" width="3.1" height="4.18"/>
<rect x="497.15" y="176.61" width="3.1" height="4.09"/>
<rect x="500.98" y="178.32" width="3.1" height="2.38"/>
<rect x="504.81" y="176.34" width="3.1" height="4.36"/>
<rect x="508.64" y="176.34" width="3.1" height="4.36"/>
<rect x="512.47" y="176.97" width="3.1" height="3.73"/>
<rect x="516.30" y="177.78" width="3.1" height="2.92"/>
<rect x="520.13" y="171.20" width="3.1" height="9.50"/>
<rect x="523.96" y="170.12" width="3.1" height="10.58"/>
</g>
<g fill="none"><path d="M308.10,7.30V180.70" stroke="#000" stroke-width="1.8"/><path d="M307.20,180.70H537.30" stroke="#000" stroke-width="1.4"/><path d="M307.20,7.30H537.30" stroke="#333" stroke-width="1.0"/><path d="M536.80,7.30V180.70" stroke="#333" stroke-width="1.0"/></g>
<path d="M307.20,7.30v2.4M345.50,7.30v2.4M383.80,7.30v2.4M422.10,7.30v2.4M460.40,7.30v2.4M498.70,7.30v2.4M537.00,7.30v2.4M308.10,180.30h2.6M536.80,180.30h-2.6M308.10,162.28h2.6M536.80,162.28h-2.6M308.10,144.26h2.6M536.80,144.26h-2.6M308.10,126.24h2.6M536.80,126.24h-2.6M308.10,108.22h2.6M536.80,108.22h-2.6M308.10,90.20h2.6M536.80,90.20h-2.6M308.10,72.18h2.6M536.80,72.18h-2.6M308.10,54.16h2.6M536.80,54.16h-2.6M308.10,36.14h2.6M536.80,36.14h-2.6M308.10,18.12h2.6M536.80,18.12h-2.6" stroke="#000" stroke-width="1.4" fill="none"/>
<g fill="#111">
<text x="306.40" y="193.00" font-size="9.7" font-weight="bold" text-anchor="middle">0</text>
<text x="344.70" y="193.00" font-size="9.7" font-weight="bold" text-anchor="middle">10</text>
<text x="383.00" y="193.00" font-size="9.7" font-weight="bold" text-anchor="middle">20</text>
<text x="421.30" y="193.00" font-size="9.7" font-weight="bold" text-anchor="middle">30</text>
<text x="459.60" y="193.00" font-size="9.7" font-weight="bold" text-anchor="middle">40</text>
<text x="497.90" y="193.00" font-size="9.7" font-weight="bold" text-anchor="middle">50</text>
<text x="536.20" y="193.00" font-size="9.7" font-weight="bold" text-anchor="middle">60</text>
<text x="303.60" y="183.20" font-size="9.7" font-weight="bold" text-anchor="end">0</text>
<text x="305.30" y="166.78" font-size="9.7" font-weight="bold" text-anchor="end">0.02</text>
<text x="305.30" y="148.76" font-size="9.7" font-weight="bold" text-anchor="end">0.04</text>
<text x="305.30" y="130.74" font-size="9.7" font-weight="bold" text-anchor="end">0.06</text>
<text x="305.30" y="112.72" font-size="9.7" font-weight="bold" text-anchor="end">0.08</text>
<text x="305.30" y="94.70" font-size="9.7" font-weight="bold" text-anchor="end">0.1</text>
<text x="305.30" y="76.68" font-size="9.7" font-weight="bold" text-anchor="end">0.12</text>
<text x="305.30" y="58.66" font-size="9.7" font-weight="bold" text-anchor="end">0.14</text>
<text x="305.30" y="40.64" font-size="9.7" font-weight="bold" text-anchor="end">0.16</text>
<text x="305.30" y="22.62" font-size="9.7" font-weight="bold" text-anchor="end">0.18</text>
<text x="396.9" y="204.4" font-size="11" font-weight="bold" textLength="60.5" lengthAdjust="spacingAndGlyphs">Bus number</text>
<text x="422.2" y="216.7" font-size="11" font-weight="normal" class="rg" textLength="12.6" lengthAdjust="spacingAndGlyphs" style="stroke-width:0.4px">(b)</text>
<g transform="translate(280.2,148.4) rotate(-90)"><text x="0" y="0" font-size="11.8" font-weight="bold" textLength="96.2" lengthAdjust="spacingAndGlyphs">Participation factor</text></g>
</g>
<path d="M112.62,220.80V376.30M202.24,220.80V376.30M291.86,220.80V376.30M381.48,220.80V376.30M471.10,220.80V376.30M23.70,350.05H542.80M23.70,324.10H542.80M23.70,298.15H542.80M23.70,272.20H542.80M23.70,246.25H542.80" stroke="#c4c4c4" stroke-width="0.7" fill="none"/>
<g stroke="#00004a" stroke-width="0.3">
<rect x="28.26" y="241.06" width="7.4" height="135.24" fill="#00008c"/>
<rect x="37.22" y="244.95" width="7.4" height="131.35" fill="#00ffff"/>
<rect x="38.97" y="245.86" width="3.9" height="130.44" fill="#ff0000"/>
<rect x="46.19" y="248.20" width="7.4" height="128.10" fill="#00ffff"/>
<rect x="47.94" y="251.96" width="3.9" height="124.34" fill="#ff0000"/>
<rect x="55.15" y="253.26" width="7.4" height="123.04" fill="#00008c"/>
<rect x="64.11" y="253.65" width="7.4" height="122.65" fill="#00008c"/>
<rect x="73.07" y="248.84" width="7.4" height="127.46" fill="#00ffff"/>
<rect x="74.82" y="252.74" width="3.9" height="123.56" fill="#ff0000"/>
<rect x="82.03" y="253.26" width="7.4" height="123.04" fill="#00008c"/>
<rect x="91.00" y="245.60" width="7.4" height="130.70" fill="#00ffff"/>
<rect x="92.75" y="246.51" width="3.9" height="129.79" fill="#ff0000"/>
<rect x="99.96" y="248.84" width="7.4" height="127.46" fill="#00ffff"/>
<rect x="101.71" y="255.46" width="3.9" height="120.84" fill="#ff0000"/>
<rect x="108.92" y="257.67" width="7.4" height="118.63" fill="#00008c"/>
<rect x="117.88" y="259.10" width="7.4" height="117.20" fill="#00008c"/>
<rect x="126.84" y="244.30" width="7.4" height="132.00" fill="#00ffff"/>
<rect x="128.59" y="251.96" width="3.9" height="124.34" fill="#ff0000"/>
<rect x="135.81" y="257.67" width="7.4" height="118.63" fill="#00008c"/>
<rect x="144.77" y="259.23" width="7.4" height="117.07" fill="#00008c"/>
<rect x="153.73" y="254.68" width="7.4" height="121.62" fill="#00008c"/>
<rect x="162.69" y="251.18" width="7.4" height="125.12" fill="#00008c"/>
<rect x="171.65" y="248.59" width="7.4" height="127.71" fill="#00008c"/>
<rect x="180.62" y="258.84" width="7.4" height="117.46" fill="#00008c"/>
<rect x="189.58" y="268.70" width="7.4" height="107.60" fill="#00008c"/>
<rect x="198.54" y="272.20" width="7.4" height="104.10" fill="#00008c"/>
<rect x="207.50" y="273.76" width="7.4" height="102.54" fill="#00008c"/>
<rect x="216.46" y="274.02" width="7.4" height="102.28" fill="#00008c"/>
<rect x="225.43" y="274.54" width="7.4" height="101.76" fill="#00008c"/>
<rect x="234.39" y="279.60" width="7.4" height="96.70" fill="#00008c"/>
<rect x="243.35" y="298.15" width="7.4" height="78.15" fill="#00008c"/>
<rect x="252.31" y="278.56" width="7.4" height="97.74" fill="#00008c"/>
<rect x="261.27" y="266.88" width="7.4" height="109.42" fill="#00008c"/>
<rect x="270.24" y="261.69" width="7.4" height="114.61" fill="#00008c"/>
<rect x="279.20" y="257.15" width="7.4" height="119.15" fill="#00008c"/>
<rect x="288.16" y="305.42" width="7.4" height="70.88" fill="#00008c"/>
<rect x="297.12" y="315.28" width="7.4" height="61.02" fill="#00008c"/>
<rect x="306.08" y="308.01" width="7.4" height="68.29" fill="#00008c"/>
<rect x="315.05" y="308.66" width="7.4" height="67.64" fill="#00008c"/>
<rect x="324.01" y="289.59" width="7.4" height="86.71" fill="#00008c"/>
<rect x="332.97" y="286.60" width="7.4" height="89.70" fill="#00008c"/>
<rect x="341.93" y="283.36" width="7.4" height="92.94" fill="#00008c"/>
<rect x="350.89" y="280.76" width="7.4" height="95.54" fill="#00008c"/>
<rect x="359.86" y="273.11" width="7.4" height="103.19" fill="#00008c"/>
<rect x="368.82" y="280.76" width="7.4" height="95.54" fill="#00008c"/>
<rect x="377.78" y="283.36" width="7.4" height="92.94" fill="#00008c"/>
<rect x="386.74" y="270.51" width="7.4" height="105.79" fill="#00008c"/>
<rect x="395.70" y="281.54" width="7.4" height="94.76" fill="#00008c"/>
<rect x="404.67" y="262.86" width="7.4" height="113.44" fill="#00008c"/>
<rect x="413.63" y="269.86" width="7.4" height="106.44" fill="#00008c"/>
<rect x="422.59" y="259.23" width="7.4" height="117.07" fill="#00008c"/>
<rect x="431.55" y="263.25" width="7.4" height="113.05" fill="#00008c"/>
<rect x="440.51" y="268.96" width="7.4" height="107.34" fill="#00008c"/>
<rect x="449.48" y="270.25" width="7.4" height="106.05" fill="#00008c"/>
<rect x="458.44" y="268.57" width="7.4" height="107.73" fill="#00008c"/>
<rect x="467.40" y="270.77" width="7.4" height="105.53" fill="#00008c"/>
<rect x="476.36" y="260.65" width="7.4" height="115.65" fill="#00008c"/>
<rect x="485.32" y="266.36" width="7.4" height="109.94" fill="#00008c"/>
<rect x="494.29" y="270.25" width="7.4" height="106.05" fill="#00008c"/>
<rect x="503.25" y="265.06" width="7.4" height="111.24" fill="#00008c"/>
<rect x="512.21" y="257.93" width="7.4" height="118.37" fill="#00008c"/>
<rect x="521.17" y="284.01" width="7.4" height="92.29" fill="#00008c"/>
<rect x="530.13" y="286.73" width="7.4" height="89.57" fill="#00008c"/>
</g>
<g fill="none"><path d="M23.70,220.80V376.30" stroke="#000" stroke-width="1.6"/><path d="M22.90,376.30H543.50" stroke="#000" stroke-width="1.1"/><path d="M22.90,220.80H543.50" stroke="#333" stroke-width="1.0"/><path d="M542.80,220.80V376.30" stroke="#111" stroke-width="1.4"/></g>
<path d="M112.62,220.80v3M202.24,220.80v3M291.86,220.80v3M381.48,220.80v3M471.10,220.80v3M23.70,376.00h4.5M542.80,376.00h-4.5M23.70,350.05h4.5M542.80,350.05h-4.5M23.70,324.10h4.5M542.80,324.10h-4.5M23.70,298.15h4.5M542.80,298.15h-4.5M23.70,272.20h4.5M542.80,272.20h-4.5M23.70,246.25h4.5M542.80,246.25h-4.5M23.70,220.30h4.5M542.80,220.30h-4.5" stroke="#000" stroke-width="1.3" fill="none"/>
<g fill="#111">
<text x="22.50" y="386.50" font-size="9.7" font-weight="bold" text-anchor="middle">0</text>
<text x="112.12" y="386.50" font-size="9.7" font-weight="bold" text-anchor="middle">10</text>
<text x="201.74" y="386.50" font-size="9.7" font-weight="bold" text-anchor="middle">20</text>
<text x="291.36" y="386.50" font-size="9.7" font-weight="bold" text-anchor="middle">30</text>
<text x="380.98" y="386.50" font-size="9.7" font-weight="bold" text-anchor="middle">40</text>
<text x="470.60" y="386.50" font-size="9.7" font-weight="bold" text-anchor="middle">50</text>
<text x="17.00" y="380.00" font-size="9.7" font-weight="bold" text-anchor="end">0</text>
<text x="18.20" y="353.65" font-size="9.7" font-weight="bold" text-anchor="end">0.2</text>
<text x="18.20" y="327.70" font-size="9.7" font-weight="bold" text-anchor="end">0.4</text>
<text x="18.20" y="301.75" font-size="9.7" font-weight="bold" text-anchor="end">0.6</text>
<text x="18.20" y="275.80" font-size="9.7" font-weight="bold" text-anchor="end">0.8</text>
<text x="18.20" y="249.85" font-size="9.7" font-weight="bold" text-anchor="end">1</text>
<text x="261.0" y="397.4" font-size="10.4" font-weight="bold" textLength="54.2" lengthAdjust="spacingAndGlyphs">Bus number</text>
<text x="282.5" y="425" font-size="10.4" font-weight="normal" class="rg" textLength="11.6" lengthAdjust="spacingAndGlyphs" style="stroke-width:0.4px">(c)</text>
<rect x="18.3" y="399.6" width="9.6" height="12.4" fill="#ff0000"/>
<text x="33.2" y="409.9" font-size="11" class="rg" textLength="129.8" lengthAdjust="spacingAndGlyphs">- voltage magnitude of PV bus</text>
<rect x="182.6" y="399.6" width="9.4" height="12.6" fill="#00ffff"/>
<text x="196.7" y="409.9" font-size="11" class="rg" textLength="174.4" lengthAdjust="spacingAndGlyphs">- voltage magnitude specified for PV bus</text>
<rect x="385.7" y="399.9" width="9.8" height="12.1" fill="#0000ff"/>
<text x="401.1" y="409.9" font-size="11" class="rg" textLength="129.9" lengthAdjust="spacingAndGlyphs">- voltage magnitude of PQ bus</text>
</g>
</svg>
</body></html>
